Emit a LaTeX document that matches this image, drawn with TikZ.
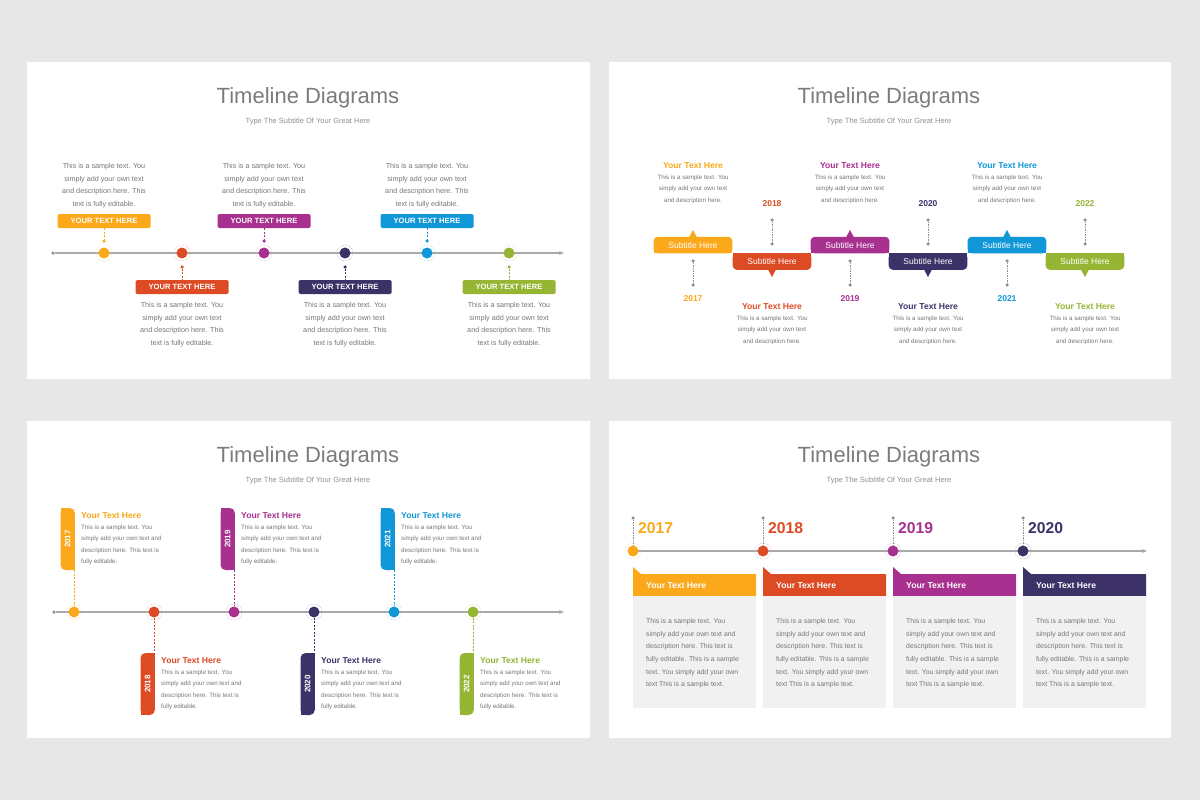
\documentclass[tikz,border=0pt]{standalone}
\usepackage{fontspec}
\setmainfont{Liberation Sans}
\usetikzlibrary{arrows.meta, calc, positioning}

\definecolor{tlorange}{HTML}{FBA81A}
\definecolor{tlred}{HTML}{DC4B24}
\definecolor{tlmagenta}{HTML}{A8308F}
\definecolor{tlpurple}{HTML}{3D3268}
\definecolor{tlblue}{HTML}{1097D8}
\definecolor{tlgreen}{HTML}{96B533}
\definecolor{bgback}{HTML}{E8E7E8}
\definecolor{txtgrey}{HTML}{767676}
\definecolor{ttlgrey}{HTML}{7C7C7C}
\definecolor{linegrey}{HTML}{A9A9A9}
\definecolor{dotgrey}{HTML}{8E8E8E}
\definecolor{panelgrey}{HTML}{F1F1F2}

\begin{document}
\begin{tikzpicture}[
      x=1pt, y=-1pt,
      slide/.style={fill=white},
      heading/.style={font=\fontsize{22}{24}\selectfont, text=ttlgrey, inner sep=0},
      subheading/.style={font=\fontsize{7.5}{9}\selectfont, text=ttlgrey!85, inner sep=0},
      axis/.style={draw=linegrey, line width=1.1pt, -{Stealth[length=5pt, width=4pt]}},
      dot/.style={circle, fill=#1, minimum size=11pt, inner sep=0},
      ring/.style={draw=#1!45, densely dotted, line width=0.5pt},
      knot/.style={circle, fill=#1, minimum size=3.5pt, inner sep=0},
      stem/.style={draw=#1, line width=0.8pt, dash pattern=on 2pt off 1.5pt},
      leader/.style={draw=dotgrey, line width=0.6pt, dash pattern=on 1.5pt off 1pt},
      tagbox/.style={fill=#1, text=white, font=\bfseries\fontsize{7.6}{9}\selectfont,
        minimum width=93pt, minimum height=14pt, inner sep=0, rounded corners=1.5pt},
      subblk/.style={fill=#1, text=white, font=\fontsize{8.5}{10}\selectfont,
        minimum width=78.6pt, minimum height=16.5pt, inner sep=0, rounded corners=4pt},
      yeartab/.style={fill=#1, text=white, font=\bfseries\fontsize{8}{9}\selectfont, rotate=90,
        minimum width=62pt, minimum height=14.3pt, inner sep=0, rounded corners=5pt},
      head/.style={text=#1, font=\bfseries\fontsize{8.6}{10}\selectfont, inner sep=0},
      year/.style={text=#1, font=\bfseries\fontsize{8.5}{10}\selectfont, inner sep=0},
      bigyear/.style={text=#1, font=\bfseries\fontsize{15.7}{18}\selectfont, inner sep=0},
      note/.style={text=txtgrey, font=\fontsize{7.2}{12.5}\selectfont, inner sep=0, align=center},
      smallnote/.style={text=txtgrey, font=\fontsize{6.2}{11.5}\selectfont, inner sep=0, align=center},
      sidenote/.style={text=txtgrey, font=\fontsize{6.2}{11.4}\selectfont, inner sep=0, align=left},
      cardnote/.style={text=txtgrey, font=\fontsize{6.9}{12.6}\selectfont, inner sep=0, align=left}
    ]

    \fill[bgback] (0,0) rectangle (1200,800);
    \useasboundingbox (0,0) rectangle (1200,800);

    % slide 1
    \fill[slide] (27,62) rectangle (590,379);
    \node[heading] (ttlA) at (308,98) {Timeline Diagrams};
    \node[subheading] (subA) at (308,122) {Type The Subtitle Of Your Great Here};
    \node[knot=dotgrey] (startA) at (53,253) {};
    \coordinate (endA) at (564,253);
    \draw[axis] (startA) -- (endA);

    \foreach \x/\c [count=\i] in {104/tlorange, 264/tlmagenta, 427/tlblue} {
      \node[dot=\c] (upA\i) at (\x,253) {};
      \draw[ring=\c] (upA\i) circle (8pt);
      \node[knot=\c] (pA\i) at (\x,241) {};
      \node[tagbox=\c] (tagA\i) at (\x,221) {YOUR TEXT HERE};
      \draw[stem=\c] (tagA\i) -- (pA\i);
      \node[note, above=6pt of tagA\i] (txtA\i) {This is a sample text. You\\simply add your own text\\and description here. This\\text is fully editable.};
    }
    \foreach \x/\c [count=\i] in {182/tlred, 345/tlpurple, 509/tlgreen} {
      \node[dot=\c] (loA\i) at (\x,253) {};
      \draw[ring=\c] (loA\i) circle (8pt);
      \node[knot=\c] (qA\i) at (\x,267) {};
      \node[tagbox=\c] (btmA\i) at (\x,287) {YOUR TEXT HERE};
      \draw[stem=\c] (qA\i) -- (btmA\i);
      \node[note, below=8pt of btmA\i] (botA\i) {This is a sample text. You\\simply add your own text\\and description here. This\\text is fully editable.};
    }

    % slide 2
    \fill[slide] (609,62) rectangle (1171,379);
    \node[heading] (ttlB) at (889,98) {Timeline Diagrams};
    \node[subheading] (subB) at (889,122) {Type The Subtitle Of Your Great Here};

    \foreach \x/\c/\yr [count=\i] in {693/tlorange/2017, 850/tlmagenta/2019, 1007/tlblue/2021} {
      \fill[\c] (\x-39.3,246) rectangle (\x+39.3,253.2);
      \fill[\c] (\x-4,237.5) -- (\x,230) -- (\x+4,237.5) -- cycle;
      \node[subblk=\c] (blkB\i) at (\x,245) {Subtitle Here};
      \node[knot=dotgrey] (aB\i) at (\x,261) {};
      \node[knot=dotgrey] (bB\i) at (\x,285) {};
      \draw[leader] (aB\i) -- (bB\i);
      \node[year=\c] (yrB\i) at (\x,299) {\yr};
      \node[head=\c] (hdB\i) at (\x,166) {Your Text Here};
      \node[smallnote, below=5.5pt of hdB\i] (txtB\i) {This is a sample text. You\\simply add your own text\\and description here.};
    }
    \foreach \x/\c/\yr [count=\i] in {772/tlred/2018, 928/tlpurple/2020, 1085/tlgreen/2022} {
      \fill[\c] (\x-39.3,253) rectangle (\x+39.3,261);
      \fill[\c] (\x-4,269.5) -- (\x,277) -- (\x+4,269.5) -- cycle;
      \node[subblk=\c] (lowB\i) at (\x,261.5) {Subtitle Here};
      \node[knot=dotgrey] (cB\i) at (\x,220) {};
      \node[knot=dotgrey] (dB\i) at (\x,244) {};
      \draw[leader] (cB\i) -- (dB\i);
      \node[year=\c] (ylB\i) at (\x,204) {\yr};
      \node[head=\c] (hlB\i) at (\x,307) {Your Text Here};
      \node[smallnote, below=5.5pt of hlB\i] (botB\i) {This is a sample text. You\\simply add your own text\\and description here.};
    }

    % slide 3
    \fill[slide] (27,421) rectangle (590,738);
    \node[heading] (ttlC) at (308,457) {Timeline Diagrams};
    \node[subheading] (subC) at (308,481) {Type The Subtitle Of Your Great Here};
    \node[knot=dotgrey] (startC) at (54,612) {};
    \coordinate (endC) at (564,612);
    \draw[axis] (startC) -- (endC);

    \foreach \x/\c/\yr [count=\i] in {74/tlorange/2017, 234/tlmagenta/2019, 394/tlblue/2021} {
      \node[dot=\c] (upC\i) at (\x,612) {};
      \draw[ring=\c] (upC\i) circle (8pt);
      \fill[\c] (\x-13.5,508) rectangle (\x-7,514);
      \fill[\c] (\x-5.5,564) rectangle (\x+0.8,570);
      \node[yeartab=\c] (tabC\i) at (\x-6.35,539) {\yr};
      \coordinate (footC\i) at (\x,570);
      \draw[stem=\c] (footC\i) -- (upC\i);
      \node[head=\c, anchor=west] (hdC\i) at (\x+7,516) {Your Text Here};
      \node[sidenote, below=5.5pt of hdC\i.south west, anchor=north west] (txtC\i) {This is a sample text. You\\simply add your own text and\\description here. This text is\\fully editable.};
    }
    \foreach \x/\c/\yr [count=\i] in {154/tlred/2018, 314/tlpurple/2020, 473/tlgreen/2022} {
      \node[dot=\c] (loC\i) at (\x,612) {};
      \draw[ring=\c] (loC\i) circle (8pt);
      \fill[\c] (\x-5.5,653) rectangle (\x+0.8,659);
      \fill[\c] (\x-13.5,709) rectangle (\x-7,715);
      \node[yeartab=\c] (tlC\i) at (\x-6.35,684) {\yr};
      \coordinate (topC\i) at (\x,653);
      \draw[stem=\c] (loC\i) -- (topC\i);
      \node[head=\c, anchor=west] (hlC\i) at (\x+7,661) {Your Text Here};
      \node[sidenote, below=5.5pt of hlC\i.south west, anchor=north west] (botC\i) {This is a sample text. You\\simply add your own text and\\description here. This text is\\fully editable.};
    }

    % slide 4
    \fill[slide] (609,421) rectangle (1171,738);
    \node[heading] (ttlD) at (889,457) {Timeline Diagrams};
    \node[subheading] (subD) at (889,481) {Type The Subtitle Of Your Great Here};
    \coordinate (startD) at (633,551);
    \coordinate (endD) at (1147,551);
    \draw[axis] (startD) -- (endD);

    \foreach \x/\c/\yr [count=\i] in {633/tlorange/2017, 763/tlred/2018, 893/tlmagenta/2019, 1023/tlpurple/2020} {
      \node[knot=dotgrey] (kD\i) at (\x,518) {};
      \node[dot=\c] (dD\i) at (\x,551) {};
      \draw[leader] (kD\i) -- (dD\i);
      \draw[ring=\c] (dD\i) circle (8pt);
      \node[bigyear=\c, anchor=west] (yrD\i) at (\x+5,528) {\yr};
      \fill[\c] (\x,567) -- (\x+8,574) -- (\x+123,574) -- (\x+123,596) -- (\x,596) -- cycle;
      \fill[panelgrey] (\x,596) rectangle (\x+123,708);
      \node[head=white, anchor=west] (hdD\i) at (\x+13,585.5) {Your Text Here};
      \node[cardnote, anchor=north west] (txtD\i) at (\x+13,618.4) {This is a sample text. You\\simply add your own text and\\description here. This text is\\fully editable. This is a sample\\text. You simply add your own\\text This is a sample text.};
    }

    \end{tikzpicture}
\end{document}
